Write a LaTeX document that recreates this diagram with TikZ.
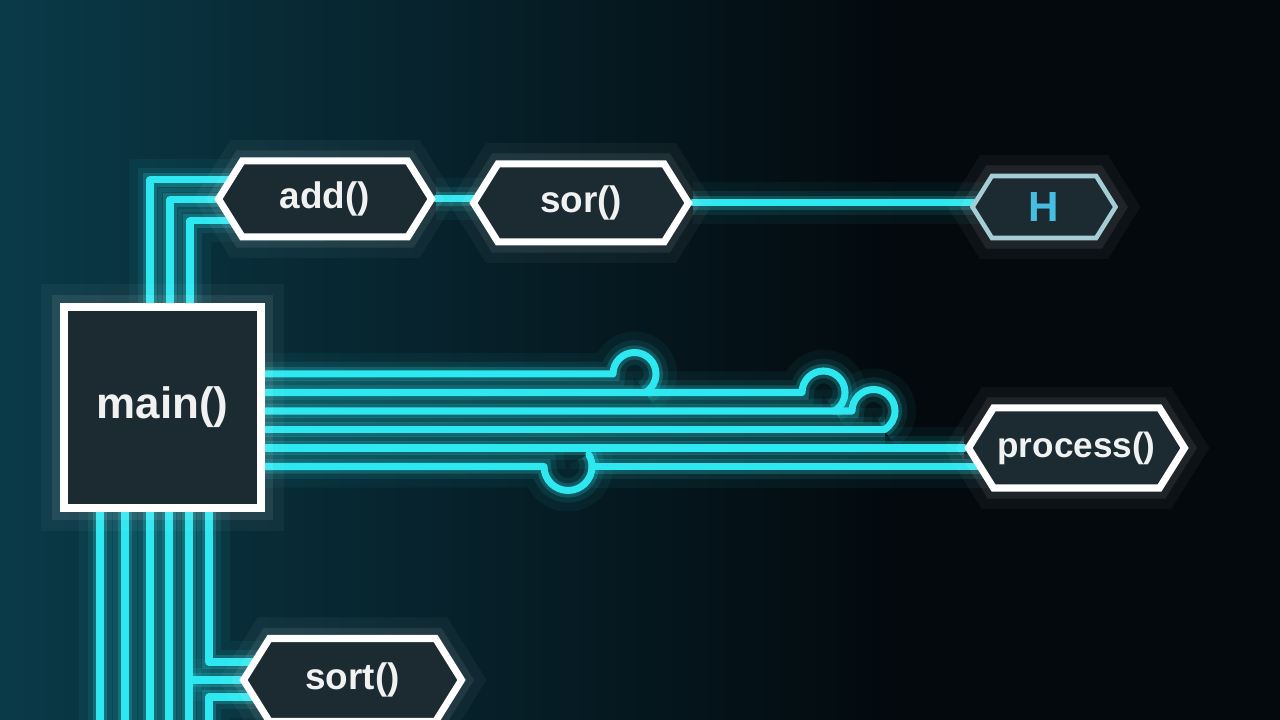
\documentclass[tikz,border=0pt]{standalone}
\usepackage{fontspec}
\setmainfont{Liberation Sans}
\usetikzlibrary{shapes.symbols}
\usetikzlibrary{calc}
\definecolor{bgleft}{RGB}{10,58,72}
\definecolor{bgright}{RGB}{3,9,13}
\definecolor{wirecyan}{RGB}{45,232,240}
\definecolor{boxfill}{RGB}{28,42,50}
\definecolor{textwhite}{RGB}{240,242,242}
\definecolor{hexgrey}{RGB}{165,205,214}
\definecolor{hcyan}{RGB}{70,190,225}
\pgfdeclarelayer{back}
\pgfdeclarelayer{wires}
\pgfsetlayers{back,wires,main}
\tikzset{
	wire/.style={draw=wirecyan,line width=2pt,line join=round,line cap=round,
		preaction={draw=wirecyan,line width=12pt,opacity=0.05},
		preaction={draw=wirecyan,line width=7pt,opacity=0.09},
		preaction={draw=wirecyan,line width=4pt,opacity=0.2}},
	hexbox/.style={shape=signal,signal to=east and west,signal pointer angle=116,draw=white,line width=2pt,fill=boxfill,text=textwhite,inner sep=0pt,font=\bfseries\fontsize{10.5}{12}\selectfont,
		preaction={draw=white,line width=12pt,opacity=0.04},
		preaction={draw=white,line width=6pt,opacity=0.08}},
	mainbox/.style={shape=rectangle,draw=white,line width=2.4pt,fill=boxfill,text=textwhite,minimum width=1.97cm,minimum height=2.01cm,font=\bfseries\fontsize{12.5}{14}\selectfont,
		preaction={draw=white,line width=13pt,opacity=0.04},
		preaction={draw=white,line width=7pt,opacity=0.08}}
}
\begin{document}
\begin{tikzpicture}
	\useasboundingbox (0,0) rectangle (12.8,7.2);
	\begin{pgfonlayer}{back}
		\shade[left color=bgleft,right color=bgright] (0,0) rectangle (9,7.2);
		\fill[bgright] (9,0) rectangle (12.8,7.2);
	\end{pgfonlayer}
	\coordinate (floor) at (0,-0.3);
	\node (main) at (1.625,3.125) [mainbox] {main()};
	\node (add) at (3.25,5.21) [hexbox,minimum width=2.13cm,minimum height=0.76cm] {add()};
	\node (sor) at (5.81,5.17) [hexbox,minimum width=2.15cm,minimum height=0.78cm] {sor()};
	\node (hh) at (10.44,5.13) [hexbox,draw=hexgrey,line width=1.3pt,text=hcyan,minimum width=1.43cm,minimum height=0.62cm,font=\bfseries\fontsize{12}{14}\selectfont] {H};
	\node (process) at (10.765,2.72) [hexbox,minimum width=2.16cm,minimum height=0.80cm,font=\bfseries\fontsize{10}{12}\selectfont] {process()};
	\node (sort) at (3.525,0.40) [hexbox,minimum width=2.18cm,minimum height=0.83cm] {sort()};
	\begin{pgfonlayer}{wires}
		\foreach \x/\y in {1.50/5.40,1.70/5.20,1.90/4.99}
			\draw[wire] (main.north -| \x,0) |- (add.center |- 0,\y);
		\draw[wire] (add.east) -- (sor.center |- add.east);
		\draw[wire] (sor.east) -- (hh.center |- sor.east);
		\foreach \y/\xe in {3.46/6.13,3.275/8.02,3.09/8.52}
			\draw[wire] (main.east |- 0,\y) -- (\xe,\y) arc[start angle=180,end angle=-60,radius=0.215];
		\draw[wire] (main.east |- 0,2.905) -- (8.845,2.905);
		\draw[wire] (main.east |- process.west) -- (process.west);
		\draw[wire] (main.east |- 0,2.535) -- (5.44,2.535) arc[start angle=180,end angle=390,radius=0.24];
		\draw[wire] (5.92,2.535) -- (process.center |- 0,2.535);
		\foreach \x in {1.00,1.25,1.50,1.69,1.89}
			\draw[wire] (main.south -| \x,0) -- (floor -| \x,0);
		\draw[wire] (main.south -| 2.09,0) |- (sort.center |- 0,0.58);
		\draw[wire] (sort.center -| 1.89,0) -- (sort.center);
		\draw[wire] (floor -| 2.09,0) |- (sort.center |- 0,0.23);
	\end{pgfonlayer}
\end{tikzpicture}
\end{document}
